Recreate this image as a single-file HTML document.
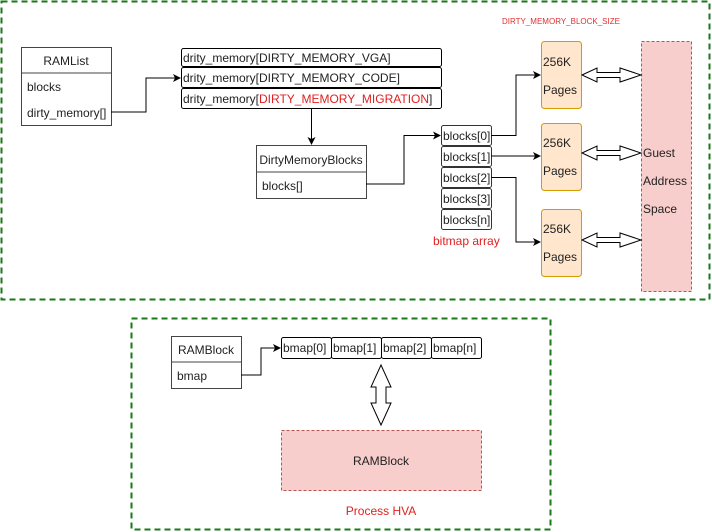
<!DOCTYPE html>
<html><head><style>body{margin:0;background:#fff}svg{display:block}text{font-family:"Liberation Sans",Arial,sans-serif;font-size:12px;fill:#222}</style></head><body>
<svg width="712" height="532" xmlns="http://www.w3.org/2000/svg">
<defs><marker id="a" markerWidth="8" markerHeight="8" refX="7" refY="4" orient="auto" markerUnits="userSpaceOnUse"><path d="M0,0 L8,4 L0,8 L2,4z" fill="#000"/></marker></defs>
<rect x="1.5" y="1.5" width="708" height="298" fill="none" stroke="#1a7a1a" stroke-width="2" stroke-dasharray="6,4"/>
<rect x="131.5" y="318.5" width="419" height="211" fill="none" stroke="#1a7a1a" stroke-width="2" stroke-dasharray="6,4"/>
<text x="502" y="24" style="font-size:8px;fill:#e03030">DIRTY_MEMORY_BLOCK_SIZE</text>
<!-- RAMList -->
<rect x="21.5" y="47.5" width="90" height="78" fill="#fff" stroke="#444"/>
<line x1="21.5" y1="73" x2="111.5" y2="73" stroke="#444"/>
<text x="66" y="65" text-anchor="middle">RAMList</text>
<text x="27" y="91">blocks</text>
<text x="27" y="117">dirty_memory[]</text>
<!-- dirty memory -->
<rect x="181.5" y="48.5" width="260" height="18" rx="2" fill="#fff" stroke="#000"/>
<rect x="181.5" y="67.5" width="260" height="20" rx="2" fill="#fff" stroke="#000"/>
<rect x="181.5" y="88.5" width="260" height="20" rx="2" fill="#fff" stroke="#000"/>
<text x="183" y="62">drity_memory[DIRTY_MEMORY_VGA]</text>
<text x="183" y="82">drity_memory[DIRTY_MEMORY_CODE]</text>
<text x="183" y="103">drity_memory[<tspan style="fill:#e02020">DIRTY_MEMORY_MIGRATION</tspan>]</text>
<path d="M111,112 H146 V78 H180" fill="none" stroke="#000" marker-end="url(#a)"/>
<path d="M311.5,108 V144" fill="none" stroke="#000" marker-end="url(#a)"/>
<!-- DMB -->
<rect x="256.5" y="145.5" width="110" height="53" fill="#fff" stroke="#444"/>
<line x1="256.5" y1="172" x2="366.5" y2="172" stroke="#444"/>
<text x="311" y="164" text-anchor="middle">DirtyMemoryBlocks</text>
<text x="262" y="190">blocks[]</text>
<path d="M366,184 H404 V135.5 H440" fill="none" stroke="#000" marker-end="url(#a)"/>
<!-- blocks -->
<g fill="#fff" stroke="#333">
<rect x="441.5" y="125.5" width="50" height="20" rx="2"/><rect x="441.5" y="146.5" width="50" height="20" rx="2"/><rect x="441.5" y="167.5" width="50" height="20" rx="2"/><rect x="441.5" y="188.5" width="50" height="20" rx="2"/><rect x="441.5" y="209.5" width="50" height="20" rx="2"/></g>
<text x="443" y="140">blocks[0]</text><text x="443" y="161">blocks[1]</text><text x="443" y="182">blocks[2]</text><text x="443" y="203">blocks[3]</text><text x="443" y="224">blocks[n]</text>
<text x="433" y="245" style="fill:#e02020">bitmap array</text>
<path d="M491,135.5 H516 V75 H540" fill="none" stroke="#000" marker-end="url(#a)"/>
<path d="M491,156 H540" fill="none" stroke="#000" marker-end="url(#a)"/>
<path d="M491,177.5 H516 V242 H540" fill="none" stroke="#000" marker-end="url(#a)"/>
<!-- pages -->
<g fill="#ffe6cc" stroke="#d79b00"><rect x="541.5" y="41.5" width="40" height="67" rx="3"/><rect x="541.5" y="123.5" width="40" height="67" rx="3"/><rect x="541.5" y="209.5" width="40" height="67" rx="3"/></g>
<text x="543" y="66">256K</text><text x="543" y="94">Pages</text>
<text x="543" y="147">256K</text><text x="543" y="175">Pages</text>
<text x="543" y="233">256K</text><text x="543" y="261">Pages</text>
<rect x="641.5" y="41.5" width="50" height="250" fill="#f8cecc" stroke="#b85450" stroke-dasharray="3,2"/>
<text x="643" y="157">Guest</text><text x="643" y="185">Address</text><text x="643" y="213">Space</text>
<g fill="#fff" stroke="#000">
<path d="M582,75 L597,68 V72.5 L620,72.5 V68 L641,75 L620,82 V77.5 L597,77.5 V82z"/>
<path d="M582,153 L597,146 V150.5 L620,150.5 V146 L641,153 L620,160 V155.5 L597,155.5 V160z"/>
<path d="M582,240 L597,233 V237.5 L620,237.5 V233 L641,240 L620,247 V242.5 L597,242.5 V247z"/>
<path d="M381,365 L391,387 H386 V403 H391 L381,425 L371,403 H376 V387 H371z"/>
</g>
<!-- bottom -->
<rect x="171.5" y="336.5" width="70" height="52" fill="#fff" stroke="#444"/>
<line x1="171.5" y1="362" x2="241.5" y2="362" stroke="#444"/>
<text x="206" y="354" text-anchor="middle">RAMBlock</text>
<text x="177" y="380">bmap</text>
<path d="M241,375 H261 V348 H280" fill="none" stroke="#000" marker-end="url(#a)"/>
<g fill="#fff" stroke="#000"><rect x="281.5" y="337.5" width="50" height="21" rx="2"/><rect x="331.5" y="337.5" width="50" height="21" rx="2"/><rect x="381.5" y="337.5" width="50" height="21" rx="2"/><rect x="431.5" y="337.5" width="50" height="21" rx="2"/></g>
<text x="283" y="352">bmap[0]</text><text x="333" y="352">bmap[1]</text><text x="383" y="352">bmap[2]</text><text x="433" y="352">bmap[n]</text>
<rect x="281.5" y="430.5" width="200" height="60" fill="#f8cecc" stroke="#b85450" stroke-dasharray="3,2"/>
<text x="381" y="465" text-anchor="middle">RAMBlock</text>
<text x="381" y="515" text-anchor="middle" style="fill:#e02020">Process HVA</text>
</svg>
</body></html>
